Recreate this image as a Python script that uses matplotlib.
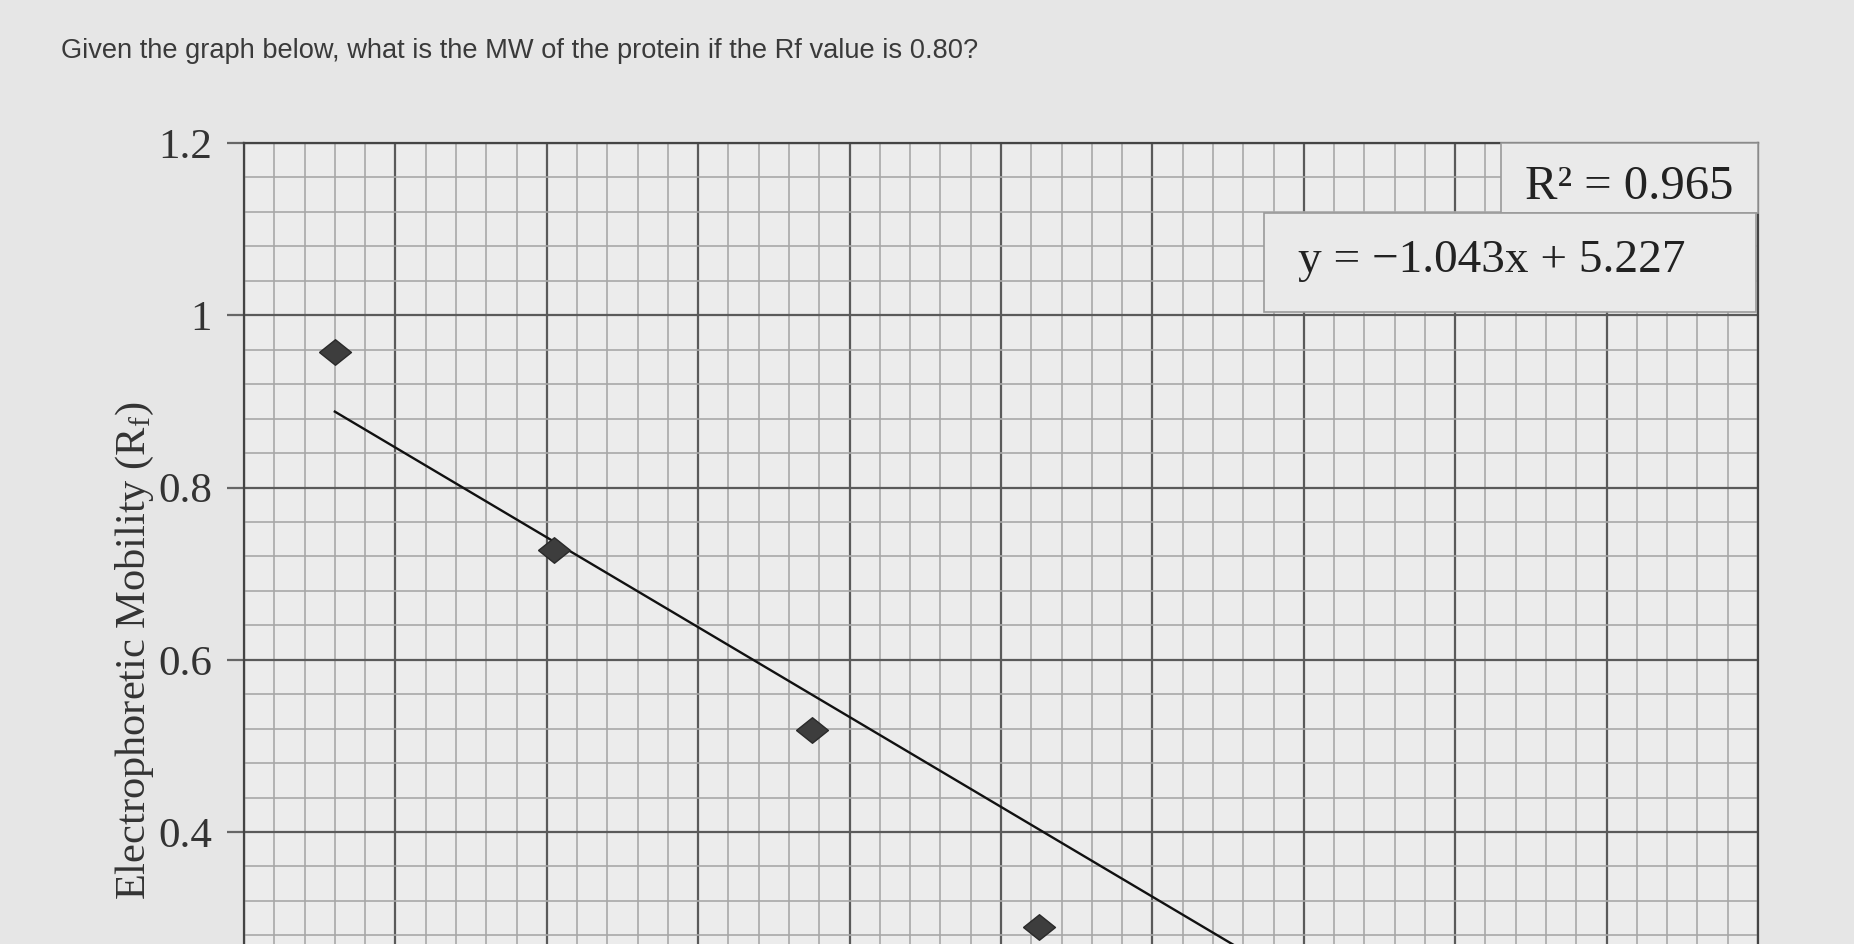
import numpy as np
import matplotlib.pyplot as plt
from matplotlib.ticker import MultipleLocator
from matplotlib.patches import Rectangle

# values (x = log MW, y = Rf)
log_mw = np.array([4.16, 4.305, 4.475, 4.625])
rf = np.array([0.957, 0.727, 0.518, 0.29])
slope = -1.043
intercept = 5.227
r_squared = 0.965
x_limits = (4.1, 5.1)
y_limits = (0.27, 1.2)
y_ticks = [0.4, 0.6, 0.8, 1.0, 1.2]
y_tick_labels = ['0.4', '0.6', '0.8', '1', '1.2']
question = "Given the graph below, what is the MW of the protein if the Rf value is 0.80?"

plt.rcParams['mathtext.fontset'] = 'custom'
plt.rcParams['mathtext.rm'] = 'Liberation Serif'
plt.rcParams['mathtext.it'] = 'Liberation Serif:italic'

W, H = 1854, 944
fig = plt.figure(figsize=(W / 100, H / 100), dpi=100, facecolor='#e6e6e6')
ax = fig.add_axes([244 / W, 0, 1514 / W, 801 / H])
ax.set_facecolor('#ececec')

ax.set_xlim(*x_limits)
ax.set_ylim(*y_limits)
ax.xaxis.set_major_locator(MultipleLocator(0.1))
ax.xaxis.set_minor_locator(MultipleLocator(0.02))
ax.set_yticks(y_ticks, y_tick_labels)
ax.yaxis.set_minor_locator(MultipleLocator(0.04))

ax.set_axisbelow(True)
ax.grid(which='major', color='#5a5a5a', lw=1.6)
ax.grid(which='minor', color='#a8a8a8', lw=1.2)

ax.tick_params(axis='x', which='both', bottom=False, labelbottom=False)
ax.tick_params(axis='y', which='major', direction='out', length=12, width=1.6,
               color='#666666', pad=11, labelsize=31, labelcolor='#333333',
               labelfontfamily='Liberation Serif')
ax.tick_params(axis='y', which='minor', left=False)

for side in ['left', 'top', 'right']:
    ax.spines[side].set_color('#444444')
    ax.spines[side].set_linewidth(1.6)
ax.spines['bottom'].set_visible(False)

# data points and linear trend line
diamond = [(-1, 0), (0, 0.8), (1, 0), (0, -0.8), (-1, 0)]
ax.plot(log_mw, rf, linestyle='none', marker=diamond, ms=23,
        color='#3d3d3d', mec='#2a2a2a', zorder=4)
tx = np.array([log_mw.min(), x_limits[1]])
ax.plot(tx, slope * tx + intercept, color='#111111', lw=1.7, zorder=3)

# equation and R^2 labels
ax.add_patch(Rectangle((0.830, 0.9126), 0.17, 0.0874, transform=ax.transAxes,
                       fc='#eaeaea', ec='#9a9a9a', lw=1.2, zorder=5, clip_on=False))
ax.add_patch(Rectangle((0.6735, 0.789), 0.325, 0.1236, transform=ax.transAxes,
                       fc='#eaeaea', ec='#9a9a9a', lw=1.2, zorder=5, clip_on=False))
ax.text(0.9146, 0.945, f'R\u00b2 = {r_squared}', transform=ax.transAxes,
        ha='center', va='center', fontsize=35, family='Liberation Serif',
        color='#222222', zorder=6)
ax.text(0.824, 0.853, f'y = \u2212{abs(slope)}x + {intercept}', transform=ax.transAxes,
        ha='center', va='center', fontsize=34, family='Liberation Serif',
        color='#222222', zorder=6)

ax.set_ylabel(r'Electrophoretic Mobility (R$_{\mathrm{f}}$)', fontsize=30.5,
              family='Liberation Serif', color='#333333')
ax.yaxis.set_label_coords(-0.058, 0.366)

fig.text(61 / W, 1 - 51 / H, question, fontsize=19.6, family='Liberation Sans',
         color='#3a3a3a', va='center')

fig.savefig('out.png', dpi=100, facecolor=fig.get_facecolor())
